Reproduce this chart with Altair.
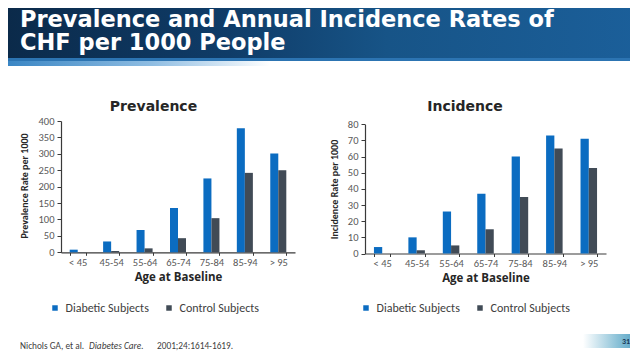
import altair as alt
import pandas as pd

# ---------------- data ----------------
ages = ["< 45", "45-54", "55-64", "65-74", "75-84", "85-94", "> 95"]
groups = ["Diabetic Subjects", "Control Subjects"]
prev_diabetic = [8, 33, 68, 135, 225, 378, 301]
prev_control = [1, 4, 12, 43, 104, 242, 250]
inc_diabetic = [4, 10, 26, 37, 60, 73, 71]
inc_control = [0, 2, 5, 15, 35, 65, 53]
prev_ticks = [0, 50, 100, 150, 200, 250, 300, 350, 400]
inc_ticks = [0, 10, 20, 30, 40, 50, 60, 70, 80]

header_line1 = "Prevalence and Annual Incidence Rates of"
header_line2 = "CHF per 1000 People"
prev_title = "Prevalence"
inc_title = "Incidence"
prev_ytitle = "Prevalence Rate per 1000"
inc_ytitle = "Incidence Rate per 1000"
xtitle = "Age at Baseline"
foot_a = "Nichols GA, et al."
foot_b = "Diabetes Care."
foot_c = "2001;24:1614-1619."
page_no = "31"

# ---------------- layout helpers ----------------
W, H = 622, 343
OFF = 8  # page margin


def px(v):
    return v - OFF


BLUE = "#0b6cc1"
GRAY = "#414b56"
AXIS = "#3a3a3a"
NARROW = "Carlito, Lato"
one = pd.DataFrame({"k": [0]})


def long_df(d, c):
    return pd.DataFrame({
        "age": ages * 2,
        "group": [groups[0]] * len(ages) + [groups[1]] * len(ages),
        "rate": d + c,
    })


def bars(df, xr, yr, ymax, ticks, xaxis_y, yaxis_x, xtitle_y, legend_x):
    return alt.Chart(df).mark_bar().encode(
        x=alt.X("age:N", sort=ages,
                scale=alt.Scale(range=xr, paddingInner=0.52, paddingOuter=0.26),
                axis=alt.Axis(orient="bottom", offset=px(xaxis_y) - H, labelAngle=0,
                              tickBand="extent", tickSize=3, tickColor=AXIS,
                              domainColor=AXIS, domainWidth=1.2,
                              labelFont=NARROW, labelFontSize=10.5, labelColor="#595959",
                              labelPadding=2, grid=False,
                              title=xtitle, titleFont="Open Sans", titleFontWeight="bold",
                              titleFontSize=11.5, titleColor="#262626",
                              titleY=xtitle_y, titleBaseline="alphabetic")),
        xOffset=alt.XOffset("group:N", sort=groups,
                            scale=alt.Scale(domain=groups, paddingInner=0, paddingOuter=0)),
        y=alt.Y("rate:Q",
                scale=alt.Scale(domain=[0, ymax], range=yr, nice=False, zero=True),
                axis=alt.Axis(orient="left", offset=-px(yaxis_x), values=ticks,
                              tickSize=4, tickColor=AXIS, domainColor=AXIS, domainWidth=1.2,
                              labelFont=NARROW, labelFontSize=10.5, labelColor="#595959",
                              labelPadding=3, grid=False, title=None)),
        color=alt.Color("group:N", sort=groups,
                        scale=alt.Scale(domain=groups, range=[BLUE, GRAY]),
                        legend=alt.Legend(orient="none", legendX=px(legend_x), legendY=px(302),
                                          direction="horizontal", title=None,
                                          symbolType="square", symbolSize=30,
                                          symbolStrokeWidth=0, labelFont=NARROW,
                                          labelFontSize=12, labelColor="#404040",
                                          labelOffset=4.5, columnPadding=14, padding=0)),
    )


def text(s, x, y, size, font, color="#262626", weight="normal", align="left",
         angle=0, style="normal", baseline="alphabetic"):
    return alt.Chart(one).mark_text(
        text=s, fontSize=size, font=font, color=color, fontWeight=weight,
        align=align, angle=angle, fontStyle=style, baseline=baseline,
    ).encode(x=alt.value(px(x)), y=alt.value(px(y)))


def rect(x0, x1, y0, y1, color):
    return alt.Chart(one).mark_rect(color=color).encode(
        x=alt.value(max(px(x0), 0)), x2=alt.value(px(x1)),
        y=alt.value(max(px(y0), 0)), y2=alt.value(px(y1)))


# ---------------- decorations ----------------
header_bg = rect(0, 640, 0, 58, alt.Gradient(
    gradient="linear", x1=0, x2=1, y1=0, y2=0,
    stops=[alt.GradientStop(color="#0b2a4a", offset=0),
           alt.GradientStop(color="#0f3c68", offset=0.35),
           alt.GradientStop(color="#175487", offset=0.6),
           alt.GradientStop(color="#1b5f9a", offset=1)]))
header_line = rect(0, 640, 58, 61, "#2c74b2")
header_glow = rect(0, 270, 61, 66, alt.Gradient(
    gradient="linear", x1=0, x2=1, y1=0, y2=0,
    stops=[alt.GradientStop(color="#3a86c4", offset=0),
           alt.GradientStop(color="#8fbde2", offset=0.55),
           alt.GradientStop(color="#ffffff", offset=1)]))
page_box = rect(583, 640, 334, 348, alt.Gradient(
    gradient="linear", x1=0, x2=1, y1=0, y2=0,
    stops=[alt.GradientStop(color="#ffffff", offset=0),
           alt.GradientStop(color="#8cc2d8", offset=0.6),
           alt.GradientStop(color="#4a9cc0", offset=1)]))

texts = [
    text(header_line1, 20, 27, 22.5, "DejaVu Sans", color="white", weight="bold"),
    text(header_line2, 20, 50, 22.5, "DejaVu Sans", color="white", weight="bold"),
    text(prev_title, 153.5, 111, 14, "DejaVu Sans", weight="bold", align="center"),
    text(inc_title, 465, 111, 14, "DejaVu Sans", weight="bold", align="center"),
    text(prev_ytitle, 25, 186, 10, NARROW, weight="bold", align="center",
         angle=270, baseline="middle"),
    text(inc_ytitle, 335, 189.5, 10, NARROW, weight="bold", align="center",
         angle=270, baseline="middle"),
    text(foot_a, 20, 349, 9.3, NARROW, color="#404040"),
    text(foot_b, 89, 349, 9.3, NARROW, color="#404040", style="italic"),
    text(foot_c, 157, 349, 9.3, NARROW, color="#404040"),
    text(page_no, 626, 344, 8, NARROW, color="#1d3b58", weight="bold", align="center"),
]

prev = bars(long_df(prev_diabetic, prev_control), [px(61), px(295)], [px(252.3), px(121)],
            400, prev_ticks, 252.3, 61, 28, 49)
inc = bars(long_df(inc_diabetic, inc_control), [px(365), px(606)], [px(253.5), px(124.3)],
           80, inc_ticks, 253.5, 365, 27.5, 360)

chart = alt.layer(
    header_bg, header_line, header_glow, page_box, prev, inc, *texts
).resolve_scale(
    x="independent", y="independent", xOffset="independent", color="independent"
).resolve_axis(
    x="independent", y="independent"
).resolve_legend(
    color="independent"
).properties(
    width=W, height=H, padding=0, autosize=alt.AutoSizeParams(type="none"),
    background="white"
).configure_view(stroke=None)

chart.save("out.html", embed_options={"renderer": "svg", "actions": False})
